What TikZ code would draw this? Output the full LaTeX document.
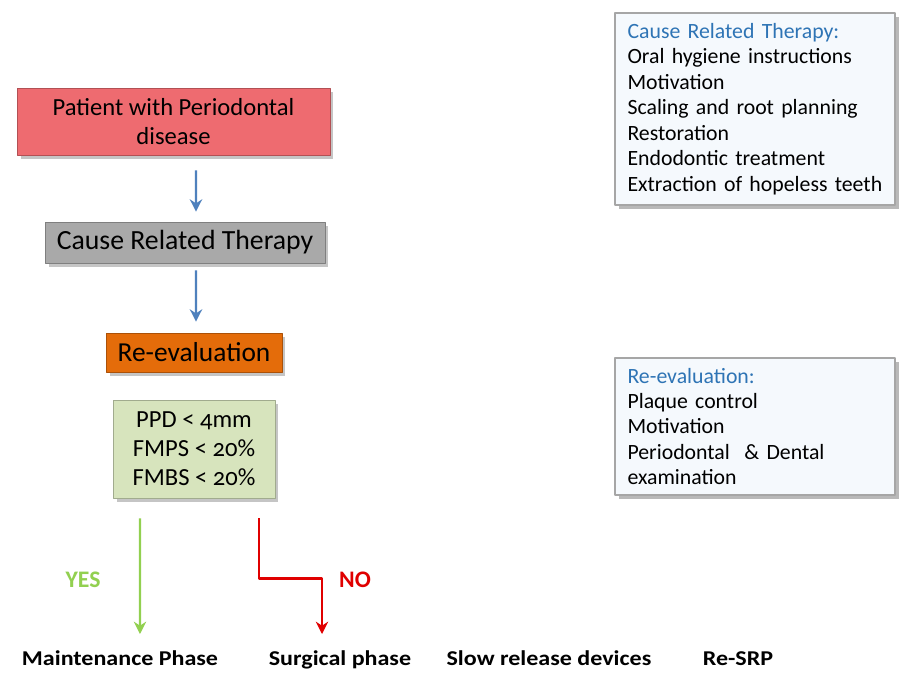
\documentclass[tikz,border=0pt]{standalone}
\usepackage{fontspec}
\setmainfont{Carlito}
\newfontfamily\widebold[FakeStretch=1.14]{Carlito}
\usetikzlibrary{calc,arrows.meta,positioning,shadows}
\definecolor{boxred}{HTML}{EE6B70}
\definecolor{boxgray}{HTML}{A9A9A9}
\definecolor{boxorange}{HTML}{E46C0A}
\definecolor{boxgreen}{HTML}{D7E4BD}
\definecolor{notebg}{HTML}{F5F9FD}
\definecolor{notehead}{HTML}{2E74B5}
\definecolor{arrblue}{HTML}{4F81BD}
\definecolor{arrgreen}{HTML}{92D050}
\definecolor{arrred}{HTML}{E00000}
\tikzset{
  stepbox/.style={draw=#1!75!black, fill=#1, line width=0.4pt, drop shadow={shadow xshift=2pt, shadow yshift=-2pt, opacity=0.45}},
  notebox/.style={draw=gray!70, fill=notebg, line width=0.8pt, drop shadow={shadow xshift=2.5pt, shadow yshift=-2.5pt, opacity=0.55},
    minimum width=5.6cm, text width=5.1cm, align=left, inner xsep=0.25cm, font=\fontsize{12.4}{14.5}\selectfont},
  outcome/.style={anchor=base, font=\widebold\fontsize{12}{14}\selectfont\bfseries},
  flowarrow/.style={-{Stealth[length=7pt,width=7pt]}, line width=1.4pt}
}
\begin{document}
\begin{tikzpicture}[x=0.02cm, y=-0.02cm, line join=round]
  \fill[white] (0,0) rectangle (914,684);
  \useasboundingbox (0,0) rectangle (914,684);
  \node[stepbox=boxred, minimum width=6.26cm, minimum height=1.34cm, align=center, font=\fontsize{14}{16.5}\selectfont] (patient) at (173.5,121.5) {Patient with Periodontal\\disease};
  \node[stepbox=boxgray, minimum width=5.6cm, minimum height=0.82cm, font=\fontsize{15.8}{16}\selectfont] (crt) at (185,242.5) {Cause Related Therapy};
  \node[stepbox=boxorange, minimum width=3.52cm, minimum height=0.78cm, font=\fontsize{15.6}{16}\selectfont] (reeval) at (194,352.5) {Re-evaluation};
  \node[stepbox=boxgreen, minimum width=3.24cm, minimum height=1.96cm, align=center, font=\fontsize{14}{16.5}\selectfont\addfontfeatures{Numbers=OldStyle}] (crit) at (194,449) {PPD < 4mm\\FMPS < 20\%\\FMBS < 20\%};
  \node[notebox, minimum height=3.84cm] (crtnote) at (755,109) {\textcolor{notehead}{Cause Related Therapy:}\\Oral hygiene instructions\\Motivation\\Scaling and root planning\\Restoration\\Endodontic treatment\\Extraction of hopeless teeth};
  \node[notebox, minimum height=2.74cm] (reevalnote) at (755,426.5) {\textcolor{notehead}{Re-evaluation:}\\Plaque control\\Motivation\\Periodontal \ \& Dental\\examination};
  \node[outcome] (maint) at (120,665) {Maintenance Phase};
  \node[outcome] (surg) at (340,665) {Surgical phase};
  \node[outcome] (slow) at (549,665) {Slow release devices};
  \node[outcome] (resrp) at (738,665) {Re-SRP};
  \node[font=\fontsize{13.5}{14}\selectfont\bfseries, text=arrgreen] (yes) at (83,580) {YES};
  \node[font=\fontsize{13.5}{14}\selectfont\bfseries, text=arrred] (no) at (355,580) {NO};
  \draw[flowarrow, arrblue] ([xshift=0.45cm,yshift=-0.3cm]patient.south) -- ([xshift=0.22cm,yshift=0.2cm]crt.north);
  \draw[flowarrow, arrblue] ([xshift=0.22cm,yshift=-0.14cm]crt.south) -- ([xshift=0.04cm,yshift=0.22cm]reeval.north);
  \draw[flowarrow, arrgreen] ([xshift=-1.08cm,yshift=-0.4cm]crit.south) -- ([xshift=0.4cm,yshift=0.62cm]maint.base);
  \draw[flowarrow, arrred] ([xshift=1.3cm,yshift=-0.4cm]crit.south) -- ++(0cm,-1.2cm) -| ([xshift=-0.36cm,yshift=0.62cm]surg.base);
\end{tikzpicture}
\end{document}
